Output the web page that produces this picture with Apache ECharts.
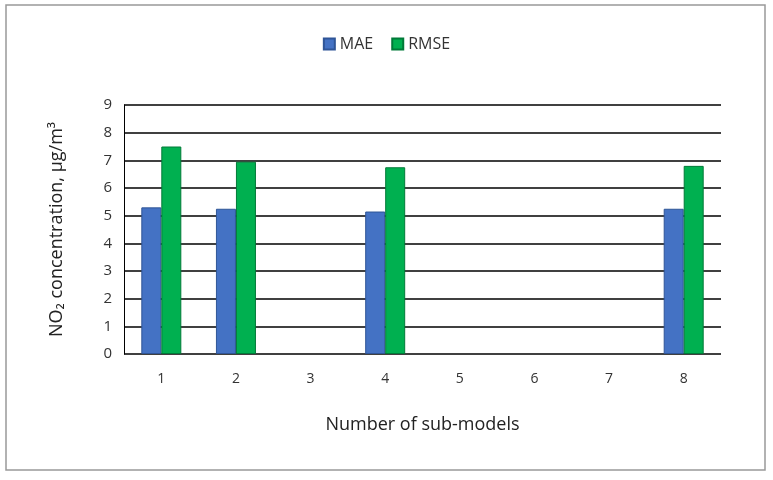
<!DOCTYPE html>
<html><head><meta charset="utf-8">
<script src="https://cdn.jsdelivr.net/npm/echarts@6/dist/echarts.min.js"></script>
<style>html,body{margin:0;padding:0;background:#fff}#c{width:773px;height:480px}</style>
</head><body><div id="c"></div>
<script>
const categories = ['1','2','3','4','5','6','7','8'];
const mae = [5.3, 5.25, null, 5.15, null, null, null, 5.25];
const rmse = [7.5, 6.95, null, 6.75, null, null, null, 6.8];
const yTicks = [0,1,2,3,4,5,6,7,8,9];
const chart = echarts.init(document.getElementById('c'));
chart.setOption({
  animation:false,
  graphic:[{type:'rect',shape:{x:6,y:5,width:759,height:465},style:{fill:'none',stroke:'#999',lineWidth:1.5}}],
  legend:{top:31,left:'center',itemWidth:11,itemHeight:11,itemGap:18,icon:'rect',
    textStyle:{fontFamily:'Open Sans',fontSize:16,color:'#333'},data:['MAE','RMSE']},
  grid:{left:124,right:52,top:105,bottom:126},
  xAxis:{type:'category',data:categories,name:'Number of sub-models',nameLocation:'middle',nameGap:62,
    nameTextStyle:{fontFamily:'Open Sans',fontSize:18,color:'#222'},
    axisLine:{show:false},axisTick:{show:false},
    axisLabel:{fontFamily:'Open Sans',fontSize:14,color:'#333',margin:18}},
  yAxis:{type:'value',min:yTicks[0],max:yTicks[yTicks.length-1],interval:1,
    name:'NO\u2082 concentration, \u03bcg/m\u00b3',nameLocation:'middle',nameGap:58,
    nameTextStyle:{fontFamily:'Open Sans',fontSize:18,color:'#222'},
    axisLine:{show:true,lineStyle:{color:'#000'}},
    axisLabel:{fontFamily:'Open Sans',fontSize:15,color:'#333',margin:12},
    splitLine:{lineStyle:{color:'#000',width:1.5}}},
  series:[
    {name:'MAE',type:'bar',data:mae,barWidth:20,barGap:'0%',
      itemStyle:{color:'#4472C4',borderColor:'#2f5597',borderWidth:1}},
    {name:'RMSE',type:'bar',data:rmse,barWidth:20,
      itemStyle:{color:'#00B050',borderColor:'#007a38',borderWidth:1}}
  ]
});
</script></body></html>
